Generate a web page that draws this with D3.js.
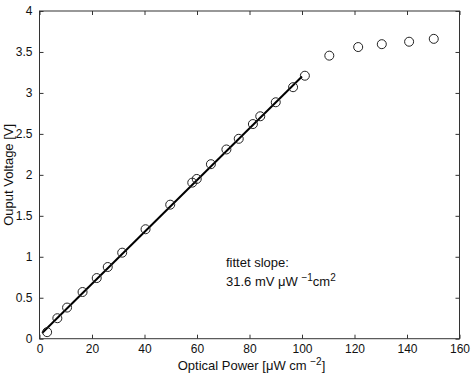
<!DOCTYPE html>
<html>
<head>
<meta charset="utf-8">
<script src="https://cdn.jsdelivr.net/npm/d3@7"></script>
<style>
  body { margin: 0; background: #fff; }
  text { font-family: "Liberation Sans", Arial, sans-serif; fill: #111; }
</style>
</head>
<body>
<div id="chart"></div>
<script>
// measured points
var powerX = [2.9, 6.8, 10.5, 16.4, 21.8, 26, 31.5, 40.4, 49.8, 58.2, 59.9, 65.3, 71.2, 75.9, 81.3, 84.1, 90, 96.6, 101.1, 110.4, 121.4, 130.4, 140.8, 150.2];
var voltY = [0.08, 0.25, 0.38, 0.57, 0.74, 0.875, 1.05, 1.336, 1.636, 1.905, 1.95, 2.13, 2.31, 2.44, 2.62, 2.715, 2.886, 3.07, 3.21, 3.455, 3.56, 3.595, 3.625, 3.66];
// fitted line endpoints
var fitX = [1, 100];
var fitY = [0.07, 3.2];
var xTicks = [0, 20, 40, 60, 80, 100, 120, 140, 160];
var yTicks = [0, 0.5, 1, 1.5, 2, 2.5, 3, 3.5, 4];

var W = 474, H = 377;
var m = {left: 39.5, right: 14.5, top: 11, bottom: 38.3};

var svg = d3.select("#chart").append("svg")
    .attr("width", W)
    .attr("height", H);

var x = d3.scaleLinear().domain([0, 160]).range([m.left, W - m.right]);
var y = d3.scaleLinear().domain([0, 4]).range([H - m.bottom, m.top]);

var axisColor = "#333";

// box
svg.append("rect")
    .attr("x", x(0)).attr("y", y(4))
    .attr("width", x(160) - x(0)).attr("height", y(0) - y(4))
    .attr("fill", "none").attr("stroke", axisColor).attr("stroke-width", 1);

function styleAxis(g) {
  g.select(".domain").remove();
  g.selectAll(".tick line").attr("stroke", axisColor);
  g.selectAll(".tick text").style("font-size", "12px").attr("fill", "#111");
}

svg.append("g")
    .attr("transform", "translate(0," + y(0) + ")")
    .call(d3.axisBottom(x).tickValues(xTicks).tickSizeInner(-4).tickPadding(6).tickFormat(d3.format("d")))
    .call(styleAxis);
svg.append("g")
    .attr("transform", "translate(0," + y(4) + ")")
    .call(d3.axisTop(x).tickValues(xTicks).tickSizeInner(-4).tickFormat(""))
    .call(styleAxis);
svg.append("g")
    .attr("transform", "translate(" + x(0) + ",0)")
    .call(d3.axisLeft(y).tickValues(yTicks).tickSizeInner(-4).tickPadding(7).tickFormat(function(d) { return d; }))
    .call(styleAxis);
svg.append("g")
    .attr("transform", "translate(" + x(160) + ",0)")
    .call(d3.axisRight(y).tickValues(yTicks).tickSizeInner(-4).tickFormat(""))
    .call(styleAxis);

// fit line
svg.append("line")
    .attr("x1", x(fitX[0])).attr("y1", y(fitY[0]))
    .attr("x2", x(fitX[1])).attr("y2", y(fitY[1]))
    .attr("stroke", "#000").attr("stroke-width", 2);

// markers
svg.selectAll("circle.pt")
    .data(powerX)
  .enter().append("circle")
    .attr("class", "pt")
    .attr("cx", function(d) { return x(d); })
    .attr("cy", function(d, i) { return y(voltY[i]); })
    .attr("r", 4.5)
    .attr("fill", "none")
    .attr("stroke", "#222")
    .attr("stroke-width", 1);

// annotation
svg.append("text")
    .attr("x", 226).attr("y", 267)
    .style("font-size", "13px")
    .text("fittet slope:");
var t2 = svg.append("text")
    .attr("x", 226).attr("y", 286)
    .style("font-size", "13px");
t2.append("tspan").text("31.6 mV \u03bcW ");
t2.append("tspan").attr("dy", -5).style("font-size", "10px").text("\u22121");
t2.append("tspan").attr("dy", 5).text("cm");
t2.append("tspan").attr("dy", -5).style("font-size", "10px").text("2");

// axis labels
var xl = svg.append("text")
    .attr("x", x(80) + 2).attr("y", 370)
    .attr("text-anchor", "middle")
    .style("font-size", "13px");
xl.append("tspan").text("Optical Power [\u03bcW cm ");
xl.append("tspan").attr("dy", -5).style("font-size", "10px").text("\u22122");
xl.append("tspan").attr("dy", 5).text("]");

svg.append("text")
    .attr("transform", "translate(13," + y(2) + ") rotate(-90)")
    .attr("text-anchor", "middle")
    .style("font-size", "13px")
    .text("Ouput Voltage [V]");
</script>
</body>
</html>
